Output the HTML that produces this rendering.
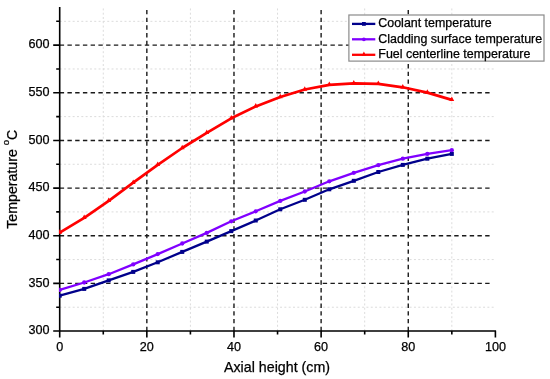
<!DOCTYPE html><html><head><meta charset="utf-8"><style>html,body{margin:0;padding:0;background:#fff;}svg{display:block;}text{font-family:"Liberation Sans",Arial,sans-serif;fill:#000;stroke:#000;stroke-width:0.25px;}</style></head><body>
<svg width="550" height="379" viewBox="0 0 550 379">
<rect width="550" height="379" fill="#fff"/>
<path d="M103.27 331.05V7.03M190.41 331.05V7.03M277.55 331.05V7.03M364.69 331.05V7.03M451.83 331.05V7.03" stroke="#dcdcdc" stroke-width="1" stroke-dasharray="2 2.275" fill="none"/>
<path d="M59.70 307.23H495.40M59.70 259.57H495.40M59.70 211.92H495.40M59.70 164.27H495.40M59.70 116.62H495.40M59.70 68.97H495.40M59.70 21.32H495.40" stroke="#dcdcdc" stroke-width="1" stroke-dasharray="2 2.32" fill="none"/>
<path d="M146.84 331.05V7.03M233.98 331.05V7.03M321.12 331.05V7.03M408.26 331.05V7.03" stroke="#1a1a1a" stroke-width="1.4" stroke-dasharray="4.4 3.325" fill="none"/>
<path d="M59.70 283.40H492M59.70 235.75H492M59.70 188.10H492M59.70 140.45H492M59.70 92.80H492M59.70 45.15H492" stroke="#1a1a1a" stroke-width="1.4" stroke-dasharray="4.4 3.336" fill="none"/>
<path d="M59.70 7.03V331.05H496.10M59.70 331.05V337.55M146.84 331.05V337.55M233.98 331.05V337.55M321.12 331.05V337.55M408.26 331.05V337.55M495.40 331.05V337.55M103.27 331.05V334.55M190.41 331.05V334.55M277.55 331.05V334.55M364.69 331.05V334.55M451.83 331.05V334.55M59.70 331.05H53.20M59.70 283.40H53.20M59.70 235.75H53.20M59.70 188.10H53.20M59.70 140.45H53.20M59.70 92.80H53.20M59.70 45.15H53.20M59.70 307.23H56.20M59.70 259.57H56.20M59.70 211.92H56.20M59.70 164.27H56.20M59.70 116.62H56.20M59.70 68.97H56.20M59.70 21.32H56.20" stroke="#000" stroke-width="1.6" fill="none"/>
<text x="49.5" y="334.35" font-size="12.6" text-anchor="end">300</text>
<text x="49.5" y="286.70" font-size="12.6" text-anchor="end">350</text>
<text x="49.5" y="239.05" font-size="12.6" text-anchor="end">400</text>
<text x="49.5" y="191.40" font-size="12.6" text-anchor="end">450</text>
<text x="49.5" y="143.75" font-size="12.6" text-anchor="end">500</text>
<text x="49.5" y="96.10" font-size="12.6" text-anchor="end">550</text>
<text x="49.5" y="48.45" font-size="12.6" text-anchor="end">600</text>
<text x="59.70" y="351.4" font-size="12.6" text-anchor="middle">0</text>
<text x="146.84" y="351.4" font-size="12.6" text-anchor="middle">20</text>
<text x="233.98" y="351.4" font-size="12.6" text-anchor="middle">40</text>
<text x="321.12" y="351.4" font-size="12.6" text-anchor="middle">60</text>
<text x="408.26" y="351.4" font-size="12.6" text-anchor="middle">80</text>
<text x="495.40" y="351.4" font-size="12.6" text-anchor="middle">100</text>
<text x="224" y="371.6" font-size="14.2" textLength="106" lengthAdjust="spacingAndGlyphs">Axial height (cm)</text>
<text transform="translate(17.4 228.8) rotate(-90)" font-size="14.2">Temperature <tspan font-size="9.5" dy="-8.3">o</tspan><tspan dy="8.3">C</tspan></text>
<clipPath id="cp"><rect x="58.9" y="0" width="500" height="379"/></clipPath><g clip-path="url(#cp)">
<polyline points="59.70,295.70 84.21,288.90 108.72,280.40 133.22,271.90 157.73,262.30 182.24,251.90 206.75,241.60 231.26,231.10 255.76,220.50 280.27,209.30 304.78,199.80 329.29,189.30 353.80,180.80 378.31,172.00 402.81,164.90 427.32,158.70 451.83,153.90" stroke="#00008b" stroke-width="2.3" fill="none" stroke-linejoin="round"/>
<polyline points="59.70,289.90 84.21,282.50 108.72,274.20 133.22,264.40 157.73,254.10 182.24,243.50 206.75,232.90 231.26,221.30 255.76,211.30 280.27,200.90 304.78,191.50 329.29,181.30 353.80,172.80 378.31,165.20 402.81,158.70 427.32,153.90 451.83,150.20" stroke="#8000ff" stroke-width="2.3" fill="none" stroke-linejoin="round"/>
<polyline points="59.70,232.60 84.21,217.80 108.72,200.80 133.22,182.70 157.73,164.90 182.24,148.00 206.75,132.80 231.26,118.30 255.76,106.40 280.27,97.00 304.78,89.50 329.29,84.90 353.80,83.40 378.31,83.90 402.81,87.30 427.32,92.60 451.83,99.90" stroke="#ff0000" stroke-width="2.7" fill="none" stroke-linejoin="round"/>
<rect x="57.70" y="293.70" width="4" height="4" fill="#00008b"/>
<rect x="82.21" y="286.90" width="4" height="4" fill="#00008b"/>
<rect x="106.72" y="278.40" width="4" height="4" fill="#00008b"/>
<rect x="131.22" y="269.90" width="4" height="4" fill="#00008b"/>
<rect x="155.73" y="260.30" width="4" height="4" fill="#00008b"/>
<rect x="180.24" y="249.90" width="4" height="4" fill="#00008b"/>
<rect x="204.75" y="239.60" width="4" height="4" fill="#00008b"/>
<rect x="229.26" y="229.10" width="4" height="4" fill="#00008b"/>
<rect x="253.76" y="218.50" width="4" height="4" fill="#00008b"/>
<rect x="278.27" y="207.30" width="4" height="4" fill="#00008b"/>
<rect x="302.78" y="197.80" width="4" height="4" fill="#00008b"/>
<rect x="327.29" y="187.30" width="4" height="4" fill="#00008b"/>
<rect x="351.80" y="178.80" width="4" height="4" fill="#00008b"/>
<rect x="376.31" y="170.00" width="4" height="4" fill="#00008b"/>
<rect x="400.81" y="162.90" width="4" height="4" fill="#00008b"/>
<rect x="425.32" y="156.70" width="4" height="4" fill="#00008b"/>
<rect x="449.83" y="151.90" width="4" height="4" fill="#00008b"/>
<circle cx="59.70" cy="289.90" r="2.15" fill="#8000ff"/>
<circle cx="84.21" cy="282.50" r="2.15" fill="#8000ff"/>
<circle cx="108.72" cy="274.20" r="2.15" fill="#8000ff"/>
<circle cx="133.22" cy="264.40" r="2.15" fill="#8000ff"/>
<circle cx="157.73" cy="254.10" r="2.15" fill="#8000ff"/>
<circle cx="182.24" cy="243.50" r="2.15" fill="#8000ff"/>
<circle cx="206.75" cy="232.90" r="2.15" fill="#8000ff"/>
<circle cx="231.26" cy="221.30" r="2.15" fill="#8000ff"/>
<circle cx="255.76" cy="211.30" r="2.15" fill="#8000ff"/>
<circle cx="280.27" cy="200.90" r="2.15" fill="#8000ff"/>
<circle cx="304.78" cy="191.50" r="2.15" fill="#8000ff"/>
<circle cx="329.29" cy="181.30" r="2.15" fill="#8000ff"/>
<circle cx="353.80" cy="172.80" r="2.15" fill="#8000ff"/>
<circle cx="378.31" cy="165.20" r="2.15" fill="#8000ff"/>
<circle cx="402.81" cy="158.70" r="2.15" fill="#8000ff"/>
<circle cx="427.32" cy="153.90" r="2.15" fill="#8000ff"/>
<circle cx="451.83" cy="150.20" r="2.15" fill="#8000ff"/>
<path d="M57.30 233.80L59.70 229.30L62.10 233.80Z" fill="#ff0000"/>
<path d="M81.81 219.00L84.21 214.50L86.61 219.00Z" fill="#ff0000"/>
<path d="M106.32 202.00L108.72 197.50L111.12 202.00Z" fill="#ff0000"/>
<path d="M130.82 183.90L133.22 179.40L135.62 183.90Z" fill="#ff0000"/>
<path d="M155.33 166.10L157.73 161.60L160.13 166.10Z" fill="#ff0000"/>
<path d="M179.84 149.20L182.24 144.70L184.64 149.20Z" fill="#ff0000"/>
<path d="M204.35 134.00L206.75 129.50L209.15 134.00Z" fill="#ff0000"/>
<path d="M228.86 119.50L231.26 115.00L233.66 119.50Z" fill="#ff0000"/>
<path d="M253.36 107.60L255.76 103.10L258.16 107.60Z" fill="#ff0000"/>
<path d="M277.87 98.20L280.27 93.70L282.67 98.20Z" fill="#ff0000"/>
<path d="M302.38 90.70L304.78 86.20L307.18 90.70Z" fill="#ff0000"/>
<path d="M326.89 86.10L329.29 81.60L331.69 86.10Z" fill="#ff0000"/>
<path d="M351.40 84.60L353.80 80.10L356.20 84.60Z" fill="#ff0000"/>
<path d="M375.91 85.10L378.31 80.60L380.71 85.10Z" fill="#ff0000"/>
<path d="M400.41 88.50L402.81 84.00L405.21 88.50Z" fill="#ff0000"/>
<path d="M424.92 93.80L427.32 89.30L429.72 93.80Z" fill="#ff0000"/>
<path d="M449.43 101.10L451.83 96.60L454.23 101.10Z" fill="#ff0000"/>
</g>
<rect x="348.9" y="15.0" width="195.1" height="46.1" fill="#fff" stroke="#8a8a8a" stroke-width="1.2"/>
<line x1="352" y1="23.9" x2="375.3" y2="23.9" stroke="#00008b" stroke-width="2.3"/>
<rect x="362.0" y="22.0" width="3.8" height="3.8" fill="#00008b"/>
<text x="378.3" y="27.35" font-size="12.45">Coolant temperature</text>
<line x1="352" y1="39.3" x2="375.3" y2="39.3" stroke="#8000ff" stroke-width="2.3"/>
<circle cx="363.9" cy="39.3" r="1.9" fill="#8000ff"/>
<text x="378.3" y="42.75" font-size="12.45">Cladding surface temperature</text>
<line x1="352" y1="54.8" x2="375.3" y2="54.8" stroke="#ff0000" stroke-width="2.3"/>
<path d="M361.70 55.80L363.90 51.50L366.10 55.80Z" fill="#ff0000"/>
<text x="378.3" y="57.85" font-size="12.45">Fuel centerline temperature</text>
</svg></body></html>
